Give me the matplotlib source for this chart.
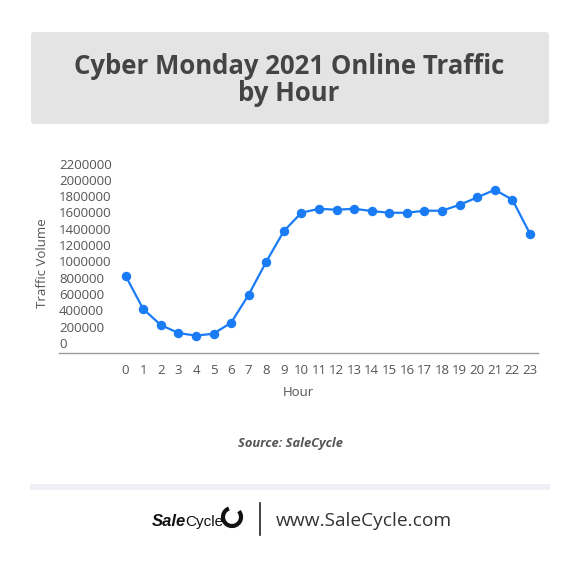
import matplotlib.pyplot as plt
from matplotlib.patches import FancyBboxPatch, Rectangle, Arc
from matplotlib.transforms import blended_transform_factory

hours = list(range(24))
traffic = [840000, 433000, 237000, 139000, 106000, 130000, 265000, 609000,
           1014000, 1390000, 1615000, 1664000, 1652000, 1664000, 1636000, 1615000,
           1615000, 1640000, 1640000, 1713000, 1803000, 1897000, 1775000, 1357000]
y_ticks = [0, 200000, 400000, 600000, 800000, 1000000, 1200000, 1400000,
           1600000, 1800000, 2000000, 2200000]

TEXT = "#555555"
BLUE = "#1a7cf5"

plt.rcParams["font.family"] = ["Open Sans", "DejaVu Sans"]

fig = plt.figure(figsize=(5.8, 5.78), dpi=100)

# background layer in pixel coordinates for the frame decorations
bg = fig.add_axes([0, 0, 1, 1], zorder=0)
bg.set_xlim(0, 580)
bg.set_ylim(578, 0)
bg.axis("off")
bg.add_patch(FancyBboxPatch((31, 32), 518, 92, boxstyle="round,pad=0,rounding_size=3",
                            fc="#e4e4e4", ec="none"))
bg.text(289, 80, "Cyber Monday 2021 Online Traffic\nby Hour", ha="center", va="center",
        fontsize=18.5, fontweight="bold", color="#444444", linespacing=0.98)
bg.text(290, 444, "Source: SaleCycle", ha="center", va="center", fontsize=9.3,
        fontweight="bold", style="italic", color=TEXT)
bg.add_patch(Rectangle((30, 484), 520, 6, fc="#eef0f5", ec="none"))
bg.text(152, 522, "Sale", ha="left", va="center", fontsize=12, fontweight="bold",
        style="italic", color="#111111", family=["Liberation Sans", "DejaVu Sans"])
bg.text(185, 522, "Cycle", ha="left", va="center", fontsize=11, color="#111111",
        family=["Liberation Sans Narrow", "Liberation Sans", "DejaVu Sans"])
bg.add_patch(Arc((232, 517), 18, 18, theta1=-40, theta2=250, lw=3, color="#111111"))
bg.plot([260, 260], [503, 535], color="#222222", lw=1.2)
bg.text(364, 521, "www.SaleCycle.com", ha="center", va="center", fontsize=13.8,
        color="#333333")

# chart
ax = fig.add_axes([0.102, 0.3898, 0.826, 0.333], zorder=1)
ax.patch.set_alpha(0)
ax.plot(hours, traffic, color=BLUE, lw=1.6, marker="o", markersize=5.8)
ax.set_xlim(-3.78, 23.47)
ax.set_ylim(-103000, 2260000)
for s in ["top", "right", "left"]:
    ax.spines[s].set_visible(False)
ax.spines["bottom"].set_color("#999999")
ax.spines["bottom"].set_linewidth(1)
ax.set_xticks(hours)
ax.set_xticklabels([str(h) for h in hours], fontsize=9.5, color=TEXT)
ax.tick_params(axis="x", length=0, pad=8)
ax.set_yticks([])
trans = blended_transform_factory(ax.transAxes, ax.transData)
for v in y_ticks:
    ax.text(0, v, str(v), transform=trans, ha="left", va="center", fontsize=9.5, color=TEXT)
ax.set_xlabel("Hour", fontsize=9.5, color=TEXT)
ax.xaxis.set_label_coords(0.5, -0.175)
fig.text(43 / 580, 1 - 263 / 578, "Traffic Volume", rotation=90, ha="center", va="center",
         fontsize=9.5, color=TEXT)

fig.savefig("out.png", dpi=100, facecolor="white")
